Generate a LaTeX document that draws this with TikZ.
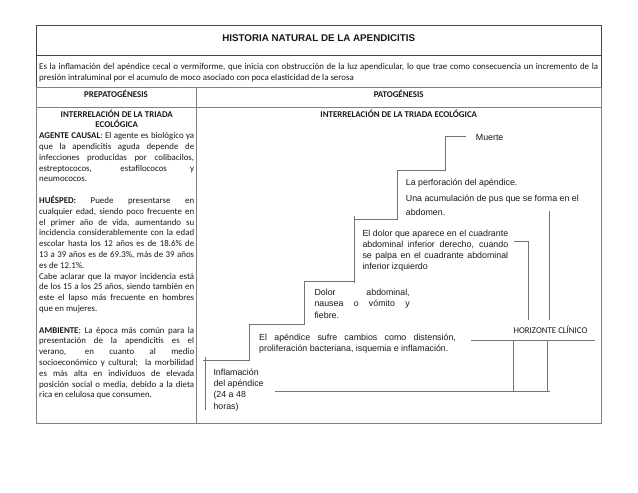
\documentclass[tikz,border=0pt]{standalone}
\usepackage{fontspec}
\setmainfont{Liberation Sans}
\newfontfamily\calfont{Carlito}
\newcommand\Jline[1]{\hbox to\hsize{#1}}
\newcommand\Lline[1]{\hbox to\hsize{#1\hfil}}
\newcommand\Cline[1]{\hbox to\hsize{\hfil#1\hfil}}
\begin{document}
\begin{tikzpicture}[x=1pt,y=-1pt,
  frame/.style={draw=black!72,line width=0.9pt},
  grid/.style={draw=black!50,line width=0.8pt},
  stair/.style={draw=black!55,line width=0.75pt,line cap=rect},
  txt/.style={inner sep=0pt,anchor=base west,text=black!90},
  ctxt/.style={inner sep=0pt,anchor=base,text=black!90},
  cal/.style={font=\calfont\fontsize{8.87}{10.8}\selectfont},
  ari/.style={font=\fontsize{8.84}{11}\selectfont},
]
\useasboundingbox[fill=white] (0,0) rectangle (638,493);

% ---------- frames ----------
\draw[frame] (36,25.7) rectangle (601.5,87.7);
\draw[frame] (36,55.7) -- (601.5,55.7);
\draw[grid] (36,87.7) rectangle (601.5,423.3);
\draw[grid] (36,107.5) -- (601.5,107.5);
\draw[grid] (196,87.7) -- (196,423.3);

% ---------- title and description ----------
\node[ctxt,font=\fontsize{9.8}{12}\selectfont\bfseries] (title) at (318.75,41.8) {HISTORIA NATURAL DE LA APENDICITIS};
\node[txt,cal] (desc) at (39,69.3) {\parbox[t]{559pt}{\fontsize{8.87}{10.8}\selectfont
\Jline{Es la inflamación del apéndice cecal o vermiforme, que inicia con obstrucción de la luz apendicular, lo que trae como consecuencia un incremento de la}
\Lline{presión intraluminal por el acumulo de moco asociado con poca elasticidad de la serosa}}};

% ---------- headers ----------
\node[ctxt,cal,font=\calfont\fontsize{8.87}{10.8}\selectfont\bfseries] (pre) at (116,97.8) {PREPATOGÉNESIS};
\node[ctxt,cal,font=\calfont\fontsize{8.87}{10.8}\selectfont\bfseries] (pat) at (398.75,97.8) {PATOGÉNESIS};
\node[ctxt,cal,font=\calfont\fontsize{8.87}{10.8}\selectfont\bfseries] (tri) at (398.75,117) {INTERRELACIÓN DE LA TRIADA ECOLÓGICA};

% ---------- left column ----------
\node[txt,cal] (left) at (39,117) {\parbox[t]{155pt}{\fontsize{8.87}{10.8}\selectfont
\Cline{\bfseries INTERRELACIÓN DE LA TRIADA}
\Cline{\bfseries ECOLÓGICA}
\Jline{\textbf{AGENTE CAUSAL}: El agente es biológico ya}
\Jline{que la apendicitis aguda depende de}
\Jline{infecciones producidas por colibacilos,}
\Jline{estreptococos, estafilococos y}
\Lline{neumococos.}
\Lline{}
\Jline{\textbf{HUÉSPED:} Puede presentarse en}
\Jline{cualquier edad, siendo poco frecuente en}
\Jline{el primer año de vida, aumentando su}
\Jline{incidencia considerablemente con la edad}
\Jline{escolar hasta los 12 años es de 18.6\% de}
\Jline{13 a 39 años es de 69.3\%, más de 39 años}
\Lline{es de 12.1\%.}
\Jline{Cabe aclarar que la mayor incidencia está}
\Jline{de los 15 a los 25 años, siendo también en}
\Jline{este el lapso más frecuente en hombres}
\Lline{que en mujeres.}
\Lline{}
\Jline{\textbf{AMBIENTE}: La época más común para la}
\Jline{presentación de la apendicitis es el}
\Jline{verano, en cuanto al medio}
\Jline{socioeconómico y cultural;\ \ la morbilidad}
\Jline{es más alta en individuos de elevada}
\Jline{posición social o media, debido a la dieta}
\Lline{rica en celulosa que consumen.}}};

% ---------- right column texts ----------
\node[txt,ari] (muerte) at (475.7,140) {Muerte};
\node[txt,ari] (perf) at (405.7,185.5) {La perforación del apéndice.};
\node[txt,ari] (pus) at (405.7,201.8) {\parbox[t]{180pt}{\fontsize{8.84}{13.2}\selectfont
\Lline{Una acumulación de pus que se forma en el}
\Lline{abdomen.}}};
\node[txt,ari] (dolor) at (362.3,236) {\parbox[t]{145.7pt}{\fontsize{8.84}{11.2}\selectfont
\Jline{El dolor que aparece en el cuadrante}
\Jline{abdominal inferior derecho, cuando}
\Jline{se palpa en el cuadrante abdominal}
\Lline{inferior izquierdo}}};
\node[txt,ari] (dab) at (314.3,295) {\parbox[t]{95.2pt}{\fontsize{8.84}{11.6}\selectfont
\Jline{Dolor abdominal,}
\Jline{nausea o vómito y}
\Lline{fiebre.}}};
\node[txt,ari] (cambios) at (259,340) {\parbox[t]{196.7pt}{\fontsize{8.84}{11.2}\selectfont
\Jline{El apéndice sufre cambios como distensión,}
\Lline{proliferación bacteriana, isquemia e inflamación.}}};
\node[txt,ari] (infl) at (213.3,375.5) {\parbox[t]{60pt}{\fontsize{8.84}{11.2}\selectfont
\Lline{Inflamación}
\Lline{del apéndice}
\Lline{(24 a 48}
\Lline{horas)}}};
\node[txt,cal] (hc) at (513.3,333.2) {HORIZONTE CLÍNICO};

% ---------- staircase ----------
\coordinate (t0) at (205,357.5);
\coordinate (t1) at (205,409.5);
\coordinate (s1) at (203.5,360);
\coordinate (s2) at (249.5,360);
\coordinate (s3) at (249.5,324);
\coordinate (s4) at (304.3,324);
\coordinate (s5) at (304.3,281.5);
\coordinate (s6) at (354,281.5);
\coordinate (s6b) at (354,283);
\coordinate (s7t) at (354,216.5);
\coordinate (s7) at (354,219.3);
\coordinate (s8) at (397,219.3);
\coordinate (s9) at (397,170.7);
\coordinate (s10) at (445.7,170.7);
\coordinate (s11) at (445.7,136.7);
\coordinate (s12) at (466,136.7);
\draw[stair] (t0) -- (t1);
\draw[stair] (s1) -- (s2) -- (s3) -- (s4) -- (s5) -- (s6);
\draw[stair] (s7t) -- (s6b);
\draw[stair] (s7) -- (s8) -- (s9) -- (s10) -- (s11) -- (s12);

% ---------- horizonte clinico ----------
\coordinate (h1) at (471.7,340);
\coordinate (h2) at (594.3,340);
\coordinate (h3) at (513.3,340);
\coordinate (h4) at (513.3,391);
\coordinate (h5) at (547.7,340);
\coordinate (h6) at (547.7,391);
\coordinate (h7) at (275,391);
\coordinate (h8) at (549.3,391);
\coordinate (b1) at (514,241);
\coordinate (b2) at (528,241);
\coordinate (b3) at (528,320);
\coordinate (v1) at (549.3,211.7);
\coordinate (v2) at (549.3,319.3);
\draw[stair] (h1) -- (h2);
\draw[stair] (h3) -- (h4);
\draw[stair] (h5) -- (h6);
\draw[stair] (h7) -- (h8);
\draw[stair] (b1) -- (b2) -- (b3);
\draw[stair] (v1) -- (v2);
\end{tikzpicture}
\end{document}
